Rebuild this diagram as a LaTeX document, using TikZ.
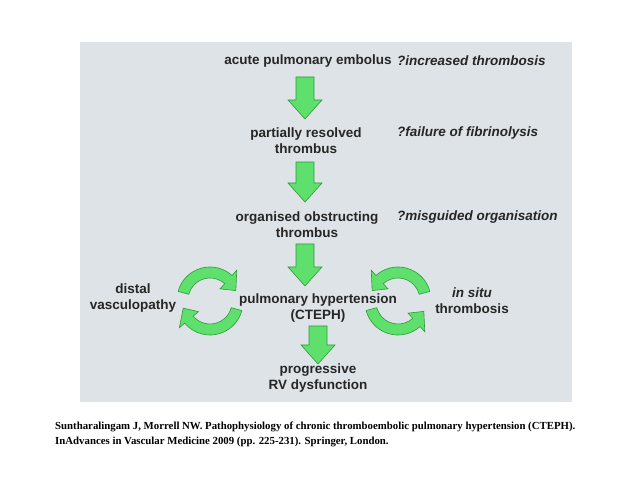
\documentclass[tikz,border=0pt]{standalone}
\usepackage{fontspec}
\setmainfont{Liberation Sans}
\newfontfamily\timesf{Liberation Serif}
\begin{document}
\begin{tikzpicture}[x=1pt,y=1pt,
  lbl/.style={font=\fontsize{13.5}{16}\selectfont\bfseries,align=center,text=black!85,inner sep=0pt},
  qlbl/.style={font=\fontsize{13.5}{16}\selectfont\bfseries\itshape,anchor=west,text=black!85,inner sep=0pt},
  arr/.style={fill=arrgreen,draw=arrdark,line width=0.6pt},
  cite/.style={font=\timesf\fontsize{10.8}{14}\selectfont\bfseries,anchor=west,inner sep=0pt}]
\definecolor{panel}{HTML}{DDE3E6}
\definecolor{arrgreen}{HTML}{5FE06C}
\definecolor{arrdark}{HTML}{2E9A3A}
\useasboundingbox (0,0) rectangle (638,478);
\fill[white] (0,0) rectangle (638,478);
\fill[panel] (80,76) rectangle (572,436);
% texts
\node[lbl] (a) at (308,417) {acute pulmonary embolus};
\node[qlbl] (qa) at (397,417) {?increased thrombosis};
\node[lbl] (b) at (306,337) {partially resolved\\thrombus};
\node[qlbl] (qb) at (397,345) {?failure of fibrinolysis};
\node[lbl] (c) at (307,253) {organised obstructing\\thrombus};
\node[qlbl] (qc) at (397,261) {?misguided organisation};
\node[lbl] (d) at (318,170) {pulmonary hypertension\\(CTEPH)};
\node[lbl] (e) at (318,100) {progressive\\RV dysfunction};
\node[lbl] (l) at (133,180) {distal\\vasculopathy};
\node[lbl] (r) at (472,177) {\itshape in situ\\thrombosis};
\node[cite] (c1) at (55,51) {Suntharalingam J, Morrell NW. Pathophysiology of chronic thromboembolic pulmonary hypertension (CTEPH).};
\node[cite] (c2) at (55,36) {InAdvances in Vascular Medicine 2009 (pp. 225-231). Springer, London.};
% down arrows: \downarr{x}{ytop}{ybottom}
\newcommand\downarr[3]{\path[arr] (#1-9,#2) -- (#1+9,#2) -- (#1+9,#3+19) -- (#1+17,#3+19) -- (#1,#3) -- (#1-17,#3+19) -- (#1-9,#3+19) -- cycle;}
\downarr{305}{401}{359}
\downarr{305}{316}{276}
\downarr{305}{234}{192}
\downarr{318}{152}{114}
% curved arrows: \cyc{cx}{cy}{start}{end}{tip}
\newcommand\cyc[5]{\path[arr,shift={(#1,#2)}] (#3:33) arc[start angle=#3,end angle=#4,radius=33] -- (#4:40) -- (#5:27.5) -- (#4:15) -- (#4:22) arc[start angle=#4,end angle=#3,radius=22] -- cycle;}
\cyc{210}{178}{165}{48}{20}
\cyc{210}{176}{-15}{-140}{-167}
\cyc{398}{178}{15}{132}{160}
\cyc{398}{176}{195}{312}{340}
\end{tikzpicture}
\end{document}
